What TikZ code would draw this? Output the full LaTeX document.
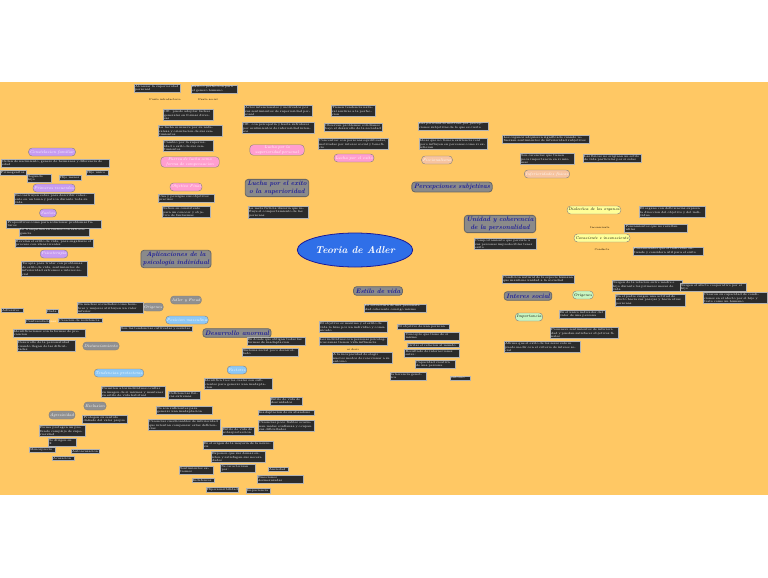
\documentclass[tikz,border=0pt]{standalone}
\usetikzlibrary{shapes.geometric,backgrounds}
\definecolor{bgc}{HTML}{FFC864}
\definecolor{blkc}{HTML}{2B2B2B}
\definecolor{catc}{HTML}{8A8A8A}
\definecolor{navyc}{HTML}{1A1A99}
\definecolor{pinkc}{HTML}{FF9ECF}
\definecolor{purc}{HTML}{C79BF2}
\definecolor{peachc}{HTML}{F7C4A0}
\definecolor{yelc}{HTML}{FFFF99}
\definecolor{grnc}{HTML}{C8F5C0}
\definecolor{lbc}{HTML}{8EC8F5}
\definecolor{gryc}{HTML}{909090}
\definecolor{linec}{HTML}{A8823A}
\definecolor{elc}{HTML}{2F6FE8}
\tikzset{
 blk/.style={fill=blkc,draw=gray!60,text=white,font=\fontsize{3}{3.5}\selectfont,align=left,inner sep=1pt,text width=#1pt},
 blk/.default=40,
 cat/.style={fill=catc,draw=black!60,rounded corners=3pt,text=navyc,font=\fontsize{6.5}{7.5}\selectfont\bfseries\itshape,align=center,inner sep=2pt,line width=0.8pt},
 sub/.style 2 args={fill=#1,text=#2,draw=black!50,rounded corners=3.5pt,font=\fontsize{4}{4.5}\selectfont\itshape,align=center,inner sep=1.2pt,minimum height=8pt},
 lbl/.style={font=\fontsize{2.6}{3}\selectfont,inner sep=0.5pt},
 ln/.style={draw=linec,line width=0.6pt},
}
\begin{document}
\begin{tikzpicture}[x=1pt,y=-1pt]
\useasboundingbox (0,0) rectangle (768,578);
\fill[white] (0,0) rectangle (768,578);
\fill[bgc] (0,82) rectangle (768,495);
% centre
\node[ellipse,fill=elc,draw=navyc,line width=0.8pt,minimum width=94pt,minimum height=34pt,inner sep=1pt,text=white,font=\fontsize{10}{11}\selectfont\bfseries\itshape] (T) at (355,250) {Teoria de Adler};
% categories
\node[cat] (L) at (277,188) {Lucha por el exito\\o la superioridad};
\node[cat] (P) at (452,187) {Percepciones subjetivas};
\node[cat] (U) at (500,224) {Unidad y coherencia\\de la personalidad};
\node[cat] (I) at (528,296) {Interes social};
\node[cat] (E) at (378,291) {Estilo de vida};
\node[cat] (D) at (237,333) {Desarrollo anormal};
\node[cat] (A) at (176,259) {Aplicaciones de la\\psicologia individual};
% Lucha cluster
\node[sub={pinkc}{white},text width=56pt] (Lf) at (190,162) {Fuerza de lucha como\\forma de compensacion};
\node[sub={pinkc}{white}] (Lo) at (186,187) {Objetivo Final};
\node[sub={pinkc}{white},text width=52pt] (Lp) at (277,150) {Lucha por la\\superioridad personal};
\node[sub={pinkc}{white}] (Le) at (354,158) {Lucha por el exito};
\node[blk=44] (L1) at (157,88) {Alcanzar la superioridad personal};
\node[blk=44] (L2) at (214,89) {Exito o perfeccion para el genero humano};
\node[lbl] (L1l) at (165,100) {Punto introductorio};
\node[lbl] (L2l) at (208,100) {Punto social};
\node[blk=48] (L3) at (188,115) {Oft. puede adoptar luchas generales en formas diversas};
\node[blk=62] (L4) at (190,131) {La lucha se mueve por su naturaleza y orientacion de sus sentimientos};
\node[blk=48] (L5) at (188,146) {Cambio por la superioridad o exito de sus sentimientos};
\node[blk=66] (L6) at (278,111) {Actos intencionales y motivados por sus sentimientos de superioridad personal};
\node[blk=70] (L7) at (278,128) {Oft. con psicopatia y hasta sufridores por sentimientos de inferioridad intensos};
\node[blk=42] (L8) at (353,111) {Tienen tendencia natural sentirse a la perfeccion};
\node[blk=56] (L9) at (353,127) {Observan problemas cotidianos bajo el desarrollo de la sociedad};
\node[blk=68] (L10) at (353,144) {Concentrar con personas equilibradas, motivadas por interes social y beneficio};
\node[blk=58] (L11) at (278,212) {La meta ficticia ilusoria que influye el comportamiento de las personas};
\node[blk=54] (L12) at (186,198) {Una y persigue sus objetivos precisos};
\node[blk=46] (L13) at (186,212) {Sufren en consistente para un conocer y objetivo de fantasmas};
% Aplicaciones
\node[sub={purc}{white}] (A1) at (52,152) {Constelacion familiar};
\node[sub={purc}{white}] (A2) at (54,188) {Primeros recuerdos};
\node[sub={purc}{white}] (A3) at (48,213) {Sueños};
\node[sub={purc}{white}] (A4) at (54,254) {Psicoterapia};
\node[blk=106] (A1a) at (55,163) {Orden de nacimiento, genero de hermanos y diferencia de edad};
\node[blk=24] (A1b) at (13,173) {Primogenitos};
\node[blk=22] (A1c) at (39,178) {Segundo hijo};
\node[blk=20] (A1d) at (70,178) {Hijo menor};
\node[blk=20] (A1e) at (97,173) {Hijo unico};
\node[blk=78] (A2a) at (54,199) {Reconstruyen sobre para describir coherente en un tema y patron durante toda su vida};
\node[blk=93] (A3a) at (54,224) {Propositivos como para solucionar problemas futuros};
\node[blk=68] (A3b) at (54,232) {Lo tranquiliza en sueños con extravagancia};
\node[blk=76] (A3c) at (54,243) {Revelan el estilo de vida, para engañarse el proceso con ideas irreales};
\node[blk=64] (A4a) at (54,269) {Terapia para tratar con problemas de estilo de vida, sentimientos de inferioridad extremos e interes social};
% Percepciones
\node[blk=68] (P1) at (453,126) {Las personas se motivan por percepciones subjetivas de lo que es cierto};
\node[blk=66] (P2) at (453,144) {Ideas que no tienen existencia real pero influyen en personas como si existieran};
\node[sub={peachc}{white}] (P3) at (437,160) {Ficcionalismo};
\node[blk=85] (P4) at (546,139) {Los organos adquieren significado cuando refuerzan sentimientos de inferioridad subjetivos};
\node[blk=52] (P5) at (547,159) {Son carencias que tienen poca importancia en si mismas};
\node[blk=56] (P6) at (612,158) {Las fisicas no originan un estilo de vida particular por si solas};
\node[sub={peachc}{white}] (P7) at (547,174) {Inferioridades fisicas};
% Unidad
\node[sub={yelc}{black}] (U1) at (594,210) {Dialectica de los organos};
\node[blk=64] (U2) at (672,212) {El organo con deficiencias expresa la direccion del objetivo y del individuo};
\node[lbl] (U3) at (600,228) {Inconsciente};
\node[blk=61] (U4) at (656,228) {Pensamientos que no resultan utiles};
\node[sub={yelc}{black}] (U5) at (602,238) {Consciente e inconsciente};
\node[lbl] (U6) at (602,250) {Conducta};
\node[blk=68] (U7) at (668,251) {Pensamientos que el individuo entiende y considera util para el exito};
\node[blk=60] (U8) at (505,244) {Comportamiento que persiste a sus personas impredecibles tener exito};
% Interes social
\node[blk=70] (I1) at (538,279) {Condicion natural de la especie humana que mantiene unidad a la sociedad};
\node[sub={grnc}{black}] (I2) at (583,295) {Origenes};
\node[blk=68] (I3) at (647,286) {Surgen de la relacion entre madre e hijo durante los primeros meses de vida};
\node[blk=64] (I4) at (713,287) {Surgen el afecto cooperativo por el hijo};
\node[blk=68] (I5) at (650,300) {En el padre surgen una actitud de afecto hacia sus parejas y hacia otras personas};
\node[blk=62] (I6) at (735,298) {Crearon su capacidad de condiciones en el afecto por el hijo y trato como un humano};
\node[sub={grnc}{black}] (I7) at (529,317) {Importancia};
\node[blk=44] (I8) at (582,314) {Es el unico indicador del valor de una persona};
\node[blk=66] (I9) at (584,333) {Promueve sentimientos de inferioridad y puedan satisfacer objetivos finales};
\node[blk=74] (I10) at (542,347) {Afirma que el exito de los seres solo se puede medir con el criterio de interes social};
% Estilo de vida
\node[blk=60] (E1) at (395,308) {La estructura de una personalidad coherente consigo mismo};
\node[blk=66] (E2) at (353,327) {El objetivo es maximo y el estilo de vida lo hizo por un individuo y comunicado};
\node[blk=66] (E3) at (353,341) {Los individuos con personas psicologicas sanas tienen vida influencia};
\node[lbl] (E3l) at (353,350) {es decir};
\node[blk=58] (E4) at (362,358) {A la incapacidad de elegir nuevos modos de reaccionar a su entorno};
\node[blk=50] (E5) at (423,327) {El objetivo de una persona};
\node[blk=53] (E6) at (432,336) {Concepto que tiene de si mismo};
\node[blk=50] (E7) at (433,345) {Gritar el relacion al mundo};
\node[blk=53] (E8) at (432,353) {Resultado de interacciones entre:};
\node[blk=38] (E9) at (435,364) {Capacidad creativa de una persona};
\node[blk=34] (E10) at (408,376) {la herencia genetica};
\node[blk=18] (E11) at (460,378) {entorno};
% Desarrollo anormal
\node[sub={gryc}{white}] (D1) at (186,300) {Adler y Freud};
\node[sub={gryc}{white}] (D2) at (153,307) {Origenes};
\node[blk=64] (D3) at (110,308) {En muchas sociedades como hombres y mujeres atribuyen un valor inferior};
\node[sub={lbc}{white}] (D4) at (187,320) {Posicion masculina};
\node[blk=70] (D5) at (156,329) {Son las tendencias cultivadas y sexistas};
\node[blk=56] (D6) at (276,341) {Es donde que obligan todas las formas de inadaptacion};
\node[blk=54] (D7) at (270,352) {Sintoma social poco desarrollado};
\node[blk=20] (D8) at (12,310) {Adversivo};
\node[blk=10] (D9) at (52,311) {Duda};
\node[blk=22] (D10) at (37,321) {Contrasoluciones};
\node[blk=42] (D11) at (80,320) {Creacion de resistencia};
\node[blk=70] (D12) at (49,333) {Identificaciones con la formas de precaucion};
\node[blk=56] (D13) at (46,346) {Desarrollo de la personalidad cuando llegan de las dificultades};
\node[sub={gryc}{white}] (D14) at (101,346) {Distanciamiento};
\node[sub={lbc}{white}] (D15) at (119,373) {Tendencias protectoras};
\node[blk=62] (D16) at (133,392) {Permiten a los individuos ocultar su imagen de si mismos y mantener su estilo de vida habitual};
\node[sub={gryc}{white}] (D17) at (95,406) {Exclusion};
\node[blk=43] (D18) at (105,419) {Protegen su sentido dañado del valor propio};
\node[sub={gryc}{white}] (D19) at (62,415) {Agresividad};
\node[blk=44] (D20) at (62,431) {Forma protegen un profundo complejo de superioridad};
\node[blk=26] (D21) at (62,442) {Se dirigen en 3:};
\node[blk=24] (D22) at (42,450) {Menosprecio};
\node[blk=20] (D23) at (63,458) {Acusacion};
\node[blk=26] (D24) at (85,451) {Autoacusacion};
% Factores
\node[sub={lbc}{white}] (F) at (237,370) {Factores};
\node[blk=66] (F1) at (238,384) {Identifica tres los cuales son suficientes para generar una inadaptacion};
\node[blk=30] (F2) at (184,395) {Deficiencias fisicas extremas};
\node[blk=54] (F3) at (184,410) {No son suficientes para generar una inadaptacion};
\node[blk=70] (F4) at (184,425) {Creencias cuestionables de inferioridad que intentan compensar estas deficiencias};
\node[blk=30] (F5) at (238,431) {Estilo de vida de sobreproteccion};
\node[blk=30] (F6) at (286,401) {Estilo de vida de descuidados};
\node[blk=54] (F7) at (286,413) {Inadaptacion de su abandono};
\node[blk=54] (F8) at (286,426) {Creencias poco fiables ocasionan malas confianza y ocupan sus dificultades};
\node[blk=68] (F9) at (238,445) {Es el origen de la mayoria de la neurosis};
\node[blk=52] (F10) at (238,457) {Exponen que sus demas existen y satisfagan sus necesidades};
\node[blk=33] (F11) at (238,468) {Se caracterizan por:};
\node[blk=32] (F12) at (196,470) {Sentimientos extremos};
\node[blk=20] (F13) at (203,480) {Indefensos};
\node[blk=30] (F14) at (222,490) {Hipersensibilidad};
\node[blk=22] (F15) at (258,491) {Impaciencia};
\node[blk=44] (F16) at (280,479) {Emociones desmesuradas};
\node[blk=18] (F17) at (278,469) {Ansiedad};
% connectors
\begin{pgfonlayer}{background}
\foreach \a/\b in {T/L,T/P,T/U,T/I,T/E,T/D,T/A,
 L/Lf,L/Lo,L/Lp,L/Le,L/L11,Lo/L12,Lo/L13,Lf/L5,L5/L4,L4/L3,L3/L1l,L3/L2l,L1l/L1,L2l/L2,
 Lp/L7,L7/L6,Le/L10,L10/L9,L9/L8,
 A/A1,A/A2,A/A3,A/A4,A1/A1a,A1a/A1b,A1a/A1c,A1a/A1d,A1a/A1e,A2/A2a,A3/A3a,A3a/A3b,A3b/A3c,A4/A4a,
 P/P3,P3/P2,P2/P1,P/P7,P7/P5,P5/P4,P5/P6,
 U/U1,U/U5,U/U8,U1/U2,U5/U3,U5/U6,U3/U4,U6/U7,
 I/I1,I/I2,I/I7,I2/I3,I2/I5,I3/I4,I5/I6,I7/I8,I7/I9,I7/I10,
 E/E1,E/E2,E2/E3,E3/E4,E/E5,E5/E6,E6/E7,E7/E8,E8/E9,E9/E10,E9/E11,
 D/D1,D1/D4,D4/D2,D2/D3,D4/D5,D/D6,D6/D7,D/D15,D15/D14,D14/D13,D13/D12,D12/D8,D12/D9,D12/D10,D12/D11,
 D15/D16,D15/D17,D17/D18,D15/D19,D19/D20,D20/D21,D21/D22,D21/D23,D21/D24,
 D/F,F/F1,F1/F2,F2/F3,F3/F4,F1/F5,F1/F6,F6/F7,F7/F8,F5/F9,F9/F10,F10/F11,
 F11/F12,F11/F13,F11/F14,F11/F15,F11/F16,F11/F17}
 \draw[ln] (\a) -- (\b);
\end{pgfonlayer}
\end{tikzpicture}
\end{document}
